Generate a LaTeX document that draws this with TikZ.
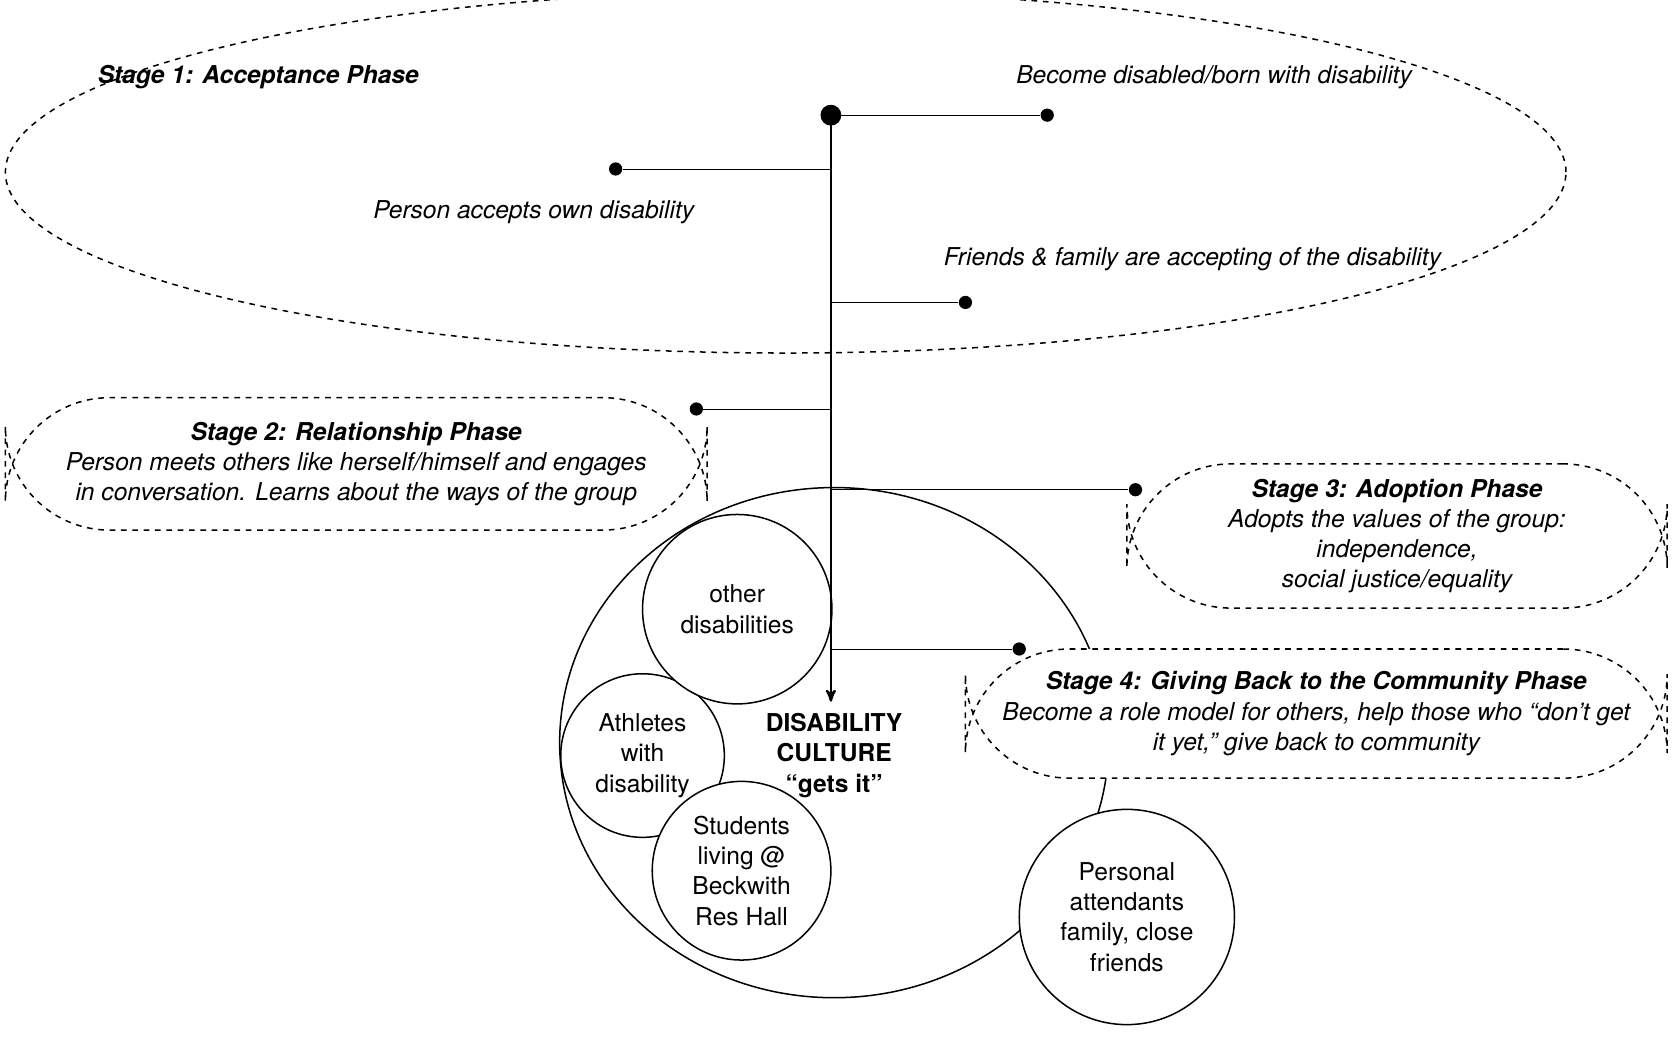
\documentclass[tikz,border=0pt]{standalone}
\usepackage{fontspec}
\setmainfont{TeX Gyre Heros}
\usetikzlibrary{arrows, positioning, shapes.geometric}

\begin{document}
\begin{tikzpicture}[>= stealth', x=0.02cm, y=-0.02cm, font=\fontsize{13}{16}\selectfont]
          \tikzstyle{dot}=[circle, fill=black, inner sep=0pt, minimum size=7pt]
          \tikzstyle{phase}=[draw, dashed, thick, rounded corners=55pt, fill=white, align=center, font=\fontsize{13}{16}\selectfont\itshape]
          \tikzstyle{group}=[circle, draw, thick, fill=white, align=center, inner sep=0pt]
          \useasboundingbox (0,0) rectangle (1560,970);

          % stage 1
          \node[ellipse, draw, dashed, thick, minimum width=1450*0.02cm, minimum height=336*0.02cm] (S1) at (730,160) {};
          \node[font=\fontsize{13}{16}\selectfont\bfseries\itshape] (T1) at (240,72) {Stage 1: Acceptance Phase};
          \node[font=\fontsize{13}{16}\selectfont\itshape] (T1a) at (1128,72) {Become disabled/born with disability};
          \node[font=\fontsize{13}{16}\selectfont\itshape] (T1b) at (496,197) {Person accepts own disability};
          \node[font=\fontsize{13}{16}\selectfont\itshape] (T1c) at (1108,241) {Friends \& family are accepting of the disability};

          % disability culture
          \node[ellipse, draw, thick, minimum width=510*0.02cm, minimum height=474*0.02cm] (C) at (775,690) {};
          \node[group, minimum size=152*0.02cm] (Ath) at (597,702) {Athletes\\with\\disability};
          \node[group, minimum size=166*0.02cm] (Stu) at (689,809) {Students\\living @\\Beckwith\\Res Hall};
          \node[group, minimum size=176*0.02cm] (Oth) at (685,566) {other\\disabilities};
          \node[group, minimum size=200*0.02cm] (Per) at (1047,852) {Personal\\attendants\\family, close\\friends};
          \node[align=center, font=\fontsize{13}{16}\selectfont\bfseries] (Cul) at (775,702) {DISABILITY\\CULTURE\\``gets it''};

          % stages 2-4
          \node[phase, minimum width=652*0.02cm, minimum height=123*0.02cm] (S2) at (331,431)
            {\textbf{Stage 2: Relationship Phase}\\Person meets others like herself/himself and engages\\in conversation. Learns about the ways of the group};
          \node[phase, minimum width=502*0.02cm, minimum height=134*0.02cm] (S3) at (1298,498)
            {\textbf{Stage 3: Adoption Phase}\\Adopts the values of the group:\\independence,\\social justice/equality};
          \node[phase, minimum width=652*0.02cm, minimum height=120*0.02cm] (S4) at (1223,663)
            {\textbf{Stage 4: Giving Back to the Community Phase}\\Become a role model for others, help those who ``don't get\\it yet,'' give back to community};

          % time line
          \node[dot, minimum size=11pt] (start) at (772,107) {};
          \coordinate (end) at (772,652);
          \coordinate (b2) at (772,157);
          \coordinate (b3) at (772,281);
          \coordinate (b4) at (772,380);
          \coordinate (b5) at (772,455);
          \coordinate (b6) at (772,603);
          \node[dot] (d1) at (973,107) {};
          \node[dot] (d2) at (572,157) {};
          \node[dot] (d3) at (897,281) {};
          \node[dot] (d4) at (647,380) {};
          \node[dot] (d5) at (1055,455) {};
          \node[dot] (d6) at (947,603) {};

          \draw[->, very thick] (start.center) -- (end);
          \draw (start.center) -- (d1);
          \draw (b2) -- (d2);
          \draw (b3) -- (d3);
          \draw (b4) -- (d4);
          \draw (b5) -- (d5);
          \draw (b6) -- (d6);

        \end{tikzpicture}
\end{document}
